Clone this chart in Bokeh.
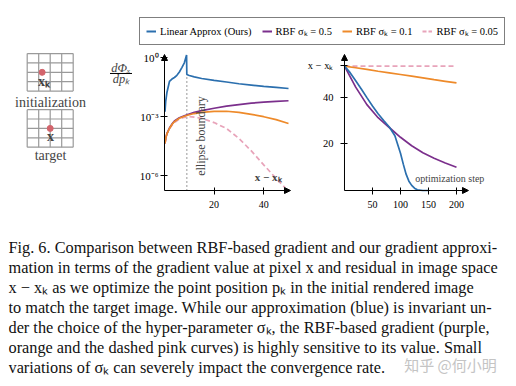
import math
from bokeh.plotting import figure
from bokeh.layouts import column, row
from bokeh.models import (Range1d, FixedTicker, CustomJSTickFormatter, Arrow,
                          NormalHead, Label, Legend, LegendItem)
from bokeh.embed import file_html
from bokeh.resources import INLINE

# ---------------- data ----------------
SERIES_LABELS = ["Linear Approx (Ours)", "RBF σₖ = 0.5", "RBF σₖ = 0.1", "RBF σₖ = 0.05"]

# left panel: gradient dPhi/dp vs |x - x_k|
blue_dist = [0.2, 0.5, 1, 2, 3, 4, 5, 6, 7, 8, 8.9, 9.0, 10, 12, 15, 20, 25, 30, 35, 40, 45, 50]
blue_grad = [1.78e-3, 6.3e-3, 0.0178, 0.063, 0.083, 0.1, 0.13, 0.19, 0.32, 0.56, 1.41, 0.141,
             0.126, 0.107, 0.089, 0.071, 0.059, 0.048, 0.041, 0.035, 0.031, 0.0275]
rbf_dist = [0.2, 0.5, 1, 2, 3, 4, 6, 8, 10, 12, 15, 20, 25, 30, 35, 40, 45, 50]
purple_grad = [4.3e-5, 7.9e-5, 1.41e-4, 2.63e-4, 4.17e-4, 6.0e-4, 8.9e-4, 1.12e-3, 1.38e-3,
               1.66e-3, 2.04e-3, 2.69e-3, 3.47e-3, 4.17e-3, 4.9e-3, 5.5e-3, 6.0e-3, 6.5e-3]
orange_grad = [4.3e-5, 7.9e-5, 1.38e-4, 2.5e-4, 4.0e-4, 5.6e-4, 8.3e-4, 1.05e-3, 1.26e-3,
               1.45e-3, 1.66e-3, 1.86e-3, 1.9e-3, 1.66e-3, 1.32e-3, 1.0e-3, 7.1e-4, 4.5e-4]
pink_dist = [0.2, 0.5, 1, 2, 3, 4, 6, 8, 10, 12, 15, 20, 25, 30, 35, 40, 45, 48.5]
pink_grad = [4.3e-5, 7.9e-5, 1.35e-4, 2.4e-4, 3.7e-4, 5.0e-4, 7.6e-4, 9.3e-4, 1.0e-3,
             9.5e-4, 8.3e-4, 5.0e-4, 2.5e-4, 7.9e-5, 1.8e-5, 3.5e-6, 7.1e-7, 2.5e-7]
ellipse_boundary = 9.0
ellipse_top = 0.141
grad_ticks_x = [20, 40]
grad_ticks_y = [1, 1e-3, 1e-6]

# right panel: residual |x - x_k| vs optimization step
blue_step = [0, 10, 20, 30, 40, 50, 60, 70, 80, 90, 100, 105, 110, 115, 120, 125, 130, 140, 150]
blue_res = [53.3, 50.5, 47, 43.5, 39.8, 36.2, 32.9, 30, 27.2, 23.5, 16, 11.3, 7, 4, 2.2, 1.0, 0.3, 0, 0]
rbf_step = [0, 20, 40, 60, 80, 100, 120, 140, 160, 180, 200]
purple_res = [53.3, 44.3, 36.8, 31.2, 27.0, 22.8, 19.2, 16.2, 13.8, 11.8, 10.0]
orange_res = [53.3, 52.6, 51.9, 51.1, 50.4, 49.7, 49.0, 48.3, 47.5, 46.8, 46.1]
pink_res = [53.3, 53.3, 53.3, 53.3, 53.3, 53.3, 53.3, 53.3, 53.3, 53.3, 53.3]
res_ticks_x = [50, 100, 150, 200]
res_ticks_y = [20, 40]
res_label_at = 53.6  # height of the "x − xₖ" axis title on the right plot's y axis

CAPTION = [
    "Fig. 6.  Comparison between RBF-based gradient and our gradient approxi-",
    "mation in terms of the gradient value at pixel x and residual in image space",
    "x − xₖ as we optimize the point position pₖ in the initial rendered image",
    "to match the target image. While our approximation (blue) is invariant un-",
    "der the choice of the hyper-parameter σₖ, the RBF-based gradient (purple,",
    "orange and the dashed pink curves) is highly sensitive to its value. Small",
    "variations of σₖ can severely impact the convergence rate.",
]
WATERMARK = "知乎 @何小明"

# ---------------- style ----------------
BLUE = "#2b6fae"
PURPLE = "#7b2f8c"
ORANGE = "#ee8a2a"
PINK = "#e8a4ba"
SERIF = "Liberation Serif"
LW = 1.7
NAN = float("nan")


def base_fig(**kw):
    p = figure(output_backend="svg", toolbar_location=None, title=None, **kw)
    p.outline_line_color = None
    p.background_fill_color = "white"
    p.border_fill_color = "white"
    return p


def style_axes(p):
    # Bokeh axes sit 4 px outside the drawn axis lines; inward ticks cross the lines
    p.grid.visible = False
    p.axis.axis_line_color = None
    p.axis.major_tick_line_color = "black"
    p.axis.major_tick_line_width = 1
    p.axis.major_tick_in = 7
    p.axis.major_tick_out = 0
    p.axis.minor_tick_in = 0
    p.axis.minor_tick_out = 0
    p.axis.major_label_text_font = SERIF
    p.axis.major_label_text_font_size = "10px"
    p.axis.major_label_text_color = "black"
    p.xaxis.major_label_standoff = 6


def axis_lines(p, x0, x1, y0, y1):
    head = dict(size=6, fill_color="black", line_color="black", line_width=1)
    p.add_layout(Arrow(end=NormalHead(**head), x_start=x0, y_start=y0, x_end=x0, y_end=y1,
                       line_color="black", line_width=1))
    p.add_layout(Arrow(end=NormalHead(**head), x_start=x0, y_start=y0, x_end=x1, y_end=y0,
                       line_color="black", line_width=1))


def label(p, x, y, text, **kw):
    kw.setdefault("text_font", SERIF)
    kw.setdefault("text_baseline", "middle")
    p.add_layout(Label(x=x, y=y, text=text, **kw))


# ---------------- legend strip ----------------
leg = base_fig(width=500, height=38, x_axis_location=None, y_axis_location=None, min_border=0,
               x_range=Range1d(0, 1), y_range=Range1d(0, 1))
leg.grid.visible = False
lr = [
    leg.line([NAN, NAN], [NAN, NAN], line_color=BLUE, line_width=2),
    leg.line([NAN, NAN], [NAN, NAN], line_color=PURPLE, line_width=2),
    leg.line([NAN, NAN], [NAN, NAN], line_color=ORANGE, line_width=2),
    leg.line([NAN, NAN], [NAN, NAN], line_color=PINK, line_width=2, line_dash="4 2"),
]
legend = Legend(items=[LegendItem(label=l, renderers=[r]) for l, r in zip(SERIES_LABELS, lr)],
                orientation="horizontal", location=(131, 1), margin=0, padding=6,
                spacing=10, label_standoff=4, glyph_width=10, glyph_height=14, label_height=14,
                label_text_font=SERIF, label_text_font_size="10.5px", label_text_color="black",
                border_line_color="black", border_line_width=1.2, background_fill_color="white")
leg.add_layout(legend)

# ---------------- icons + left y label ----------------
ic = base_fig(width=124, height=174, x_range=Range1d(8, 132), y_range=Range1d(220, 46),
              x_axis_location=None, y_axis_location=None, min_border=0)
ic.grid.visible = False
cell = 11.5
n = 4
for gx, gy, (dc, dr), lab, lab_txt, cap_txt, cap_y in [
        (26.7, 47.3, (1.3, 2.0), (43.5, 82.0), "xₖ", "initialization", 107),
        (26.7, 116.0, (2.0, 2.0), (50.0, 148.5), "x", "target", 172)]:
    xs, ys = [], []
    for i in range(n + 1):
        xs.append([gx + i * cell, gx + i * cell]); ys.append([gy, gy + n * cell])
        xs.append([gx, gx + n * cell]); ys.append([gy + i * cell, gy + i * cell])
    ic.multi_line(xs, ys, line_color="#9a9a9a", line_width=1.2)
    ic.scatter([gx + dc * cell], [gy + dr * cell], size=6, color="#d3646c")
    label(ic, lab[0], lab[1], lab_txt, text_font_style="bold", text_font_size="14px",
          text_align="center")
    label(ic, 50, cap_y, cap_txt, text_font_size="14px", text_align="center")
# d Phi_x / d p_k  (fraction label of the left plot)
label(ic, 120.5, 65.5, "dΦₓ", text_font_style="italic", text_font_size="12.5px", text_align="center")
label(ic, 120.5, 78, "dpₖ", text_font_style="italic", text_font_size="12.5px", text_align="center")
ic.add_layout(Arrow(end=None, x_start=109.5, y_start=71.7, x_end=131.5, y_end=71.7,
                    line_color="black", line_width=1))

# ---------------- left plot ----------------
x1min, x1max = 0, 50.8
y1min, y1max = 10 ** -6.765, 10 ** 0.173
p1 = base_fig(width=168, height=174, y_axis_type="log",
              x_range=Range1d(-1.613, 54.03), y_range=Range1d(10 ** -6.969, 10 ** 0.2755),
              min_border_left=28, min_border_right=2, min_border_top=6, min_border_bottom=26)
style_axes(p1)
p1.yaxis.major_label_standoff = 2
p1.xaxis.ticker = FixedTicker(ticks=grad_ticks_x)
p1.yaxis.ticker = FixedTicker(ticks=grad_ticks_y)
p1.yaxis.major_label_text_font_size = "11px"
p1.yaxis.formatter = CustomJSTickFormatter(code="""
const e = Math.round(Math.log10(tick));
const sup = {"0":"⁰","1":"¹","2":"²","3":"³","4":"⁴","5":"⁵","6":"⁶","7":"⁷","8":"⁸","9":"⁹","-":"⁻"};
return "10" + String(e).split("").map(c => sup[c]).join("");
""")
p1.line([ellipse_boundary, ellipse_boundary], [y1min, ellipse_top], line_color="#555555",
        line_width=1.2, line_dash="1 3")
p1.line(pink_dist, pink_grad, line_color=PINK, line_width=LW, line_dash="5 3")
p1.line(rbf_dist, purple_grad, line_color=PURPLE, line_width=LW)
p1.line(rbf_dist, orange_grad, line_color=ORANGE, line_width=LW)
p1.line(blue_dist, blue_grad, line_color=BLUE, line_width=LW)
axis_lines(p1, x1min, x1max, y1min, y1max)
label(p1, 14.6, 1.04e-4, "ellipse boundary", angle=math.pi / 2, text_font_size="12px",
      text_align="center")
label(p1, 47.2, 10 ** -6.08, "x − xₖ", text_font_style="bold", text_font_size="11px",
      text_align="right")

# ---------------- right plot ----------------
x2min, x2max = 0, 221.4
y2min, y2max = 0, 58.3
p2 = base_fig(width=208, height=174, x_range=Range1d(-7.14, 253.6), y_range=Range1d(-1.71, 59.14),
              min_border_left=40, min_border_right=22, min_border_top=6, min_border_bottom=26)
style_axes(p2)
p2.yaxis.major_label_standoff = 7
p2.yaxis.major_label_text_font_size = "10.5px"
p2.xaxis.ticker = FixedTicker(ticks=res_ticks_x)
p2.yaxis.ticker = FixedTicker(ticks=res_ticks_y + [res_label_at])
p2.yaxis.formatter = CustomJSTickFormatter(args=dict(at=res_label_at), code="""
return Math.abs(tick - at) < 1e-6 ? "x − xₖ" : String(Math.round(tick));
""")
p2.line(rbf_step, pink_res, line_color=PINK, line_width=LW, line_dash="5 3")
p2.line(rbf_step, orange_res, line_color=ORANGE, line_width=LW)
p2.line(rbf_step, purple_res, line_color=PURPLE, line_width=LW)
p2.line(blue_step, blue_res, line_color=BLUE, line_width=LW)
axis_lines(p2, x2min, x2max, y2min, y2max)
label(p2, 188, 5.0, "optimization step", text_font_size="10px", text_align="center")

# ---------------- caption ----------------
cap = base_fig(width=500, height=158, x_range=Range1d(8, 508), y_range=Range1d(378, 220),
               x_axis_location=None, y_axis_location=None, min_border=0)
cap.grid.visible = False
for i, line in enumerate(CAPTION):
    label(cap, 8, 246.7 + 20 * i, line, text_font_size="16.3px", text_align="left",
          text_color="#111111")
label(cap, 450, 364, WATERMARK, text_font="Noto Sans CJK SC", text_font_size="15px",
      text_align="center", text_color="#c4c4c4")

layout = column(leg, row(ic, p1, p2), cap, margin=(8, 0, 0, 8))
open("out.html", "w").write(file_html(layout, INLINE))
